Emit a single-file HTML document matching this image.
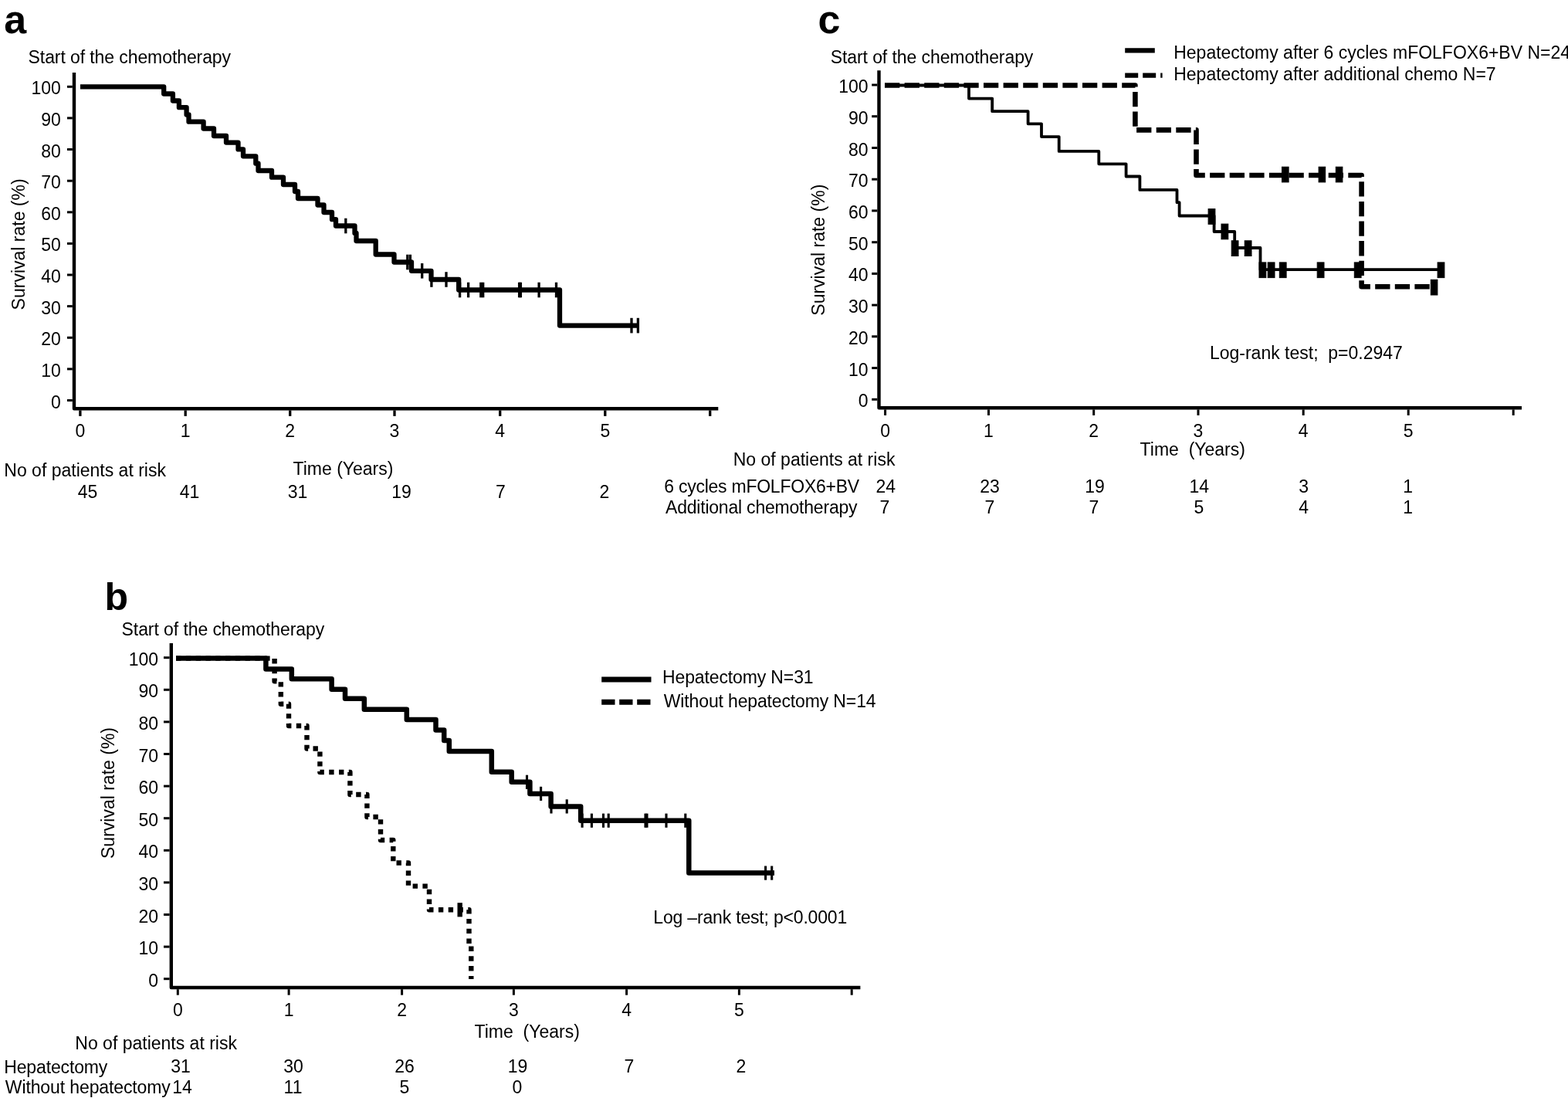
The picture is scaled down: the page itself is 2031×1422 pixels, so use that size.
<!DOCTYPE html>
<html><head><meta charset="utf-8"><title>Kaplan-Meier survival curves</title>
<style>html,body{margin:0;padding:0;background:#fff;}svg{display:block;}</style></head>
<body>
<svg width="2031" height="1422" viewBox="0 0 2031 1422" font-family="'Liberation Sans', Arial, Helvetica, sans-serif" font-size="23" fill="#000" stroke="#000">
<rect x="0" y="0" width="2031" height="1422" fill="#fff" stroke="none"/>
<text stroke="none" x="5.2" y="43.0" font-weight="bold" font-size="52">a</text>
<text stroke="none" x="36.6" y="82.0" textLength="262.46" lengthAdjust="spacing">Start of the chemotherapy</text>
<path d="M96.0,94.0 V529.2 H930.3" fill="none" stroke-width="4.4" stroke-linejoin="round"/>
<line x1="87.0" y1="518.5" x2="93.8" y2="518.5" stroke-width="3"/>
<text stroke="none" x="78.9" y="528.5" text-anchor="end">0</text>
<line x1="87.0" y1="477.9" x2="93.8" y2="477.9" stroke-width="3"/>
<text stroke="none" x="78.9" y="487.9" text-anchor="end">10</text>
<line x1="87.0" y1="437.3" x2="93.8" y2="437.3" stroke-width="3"/>
<text stroke="none" x="78.9" y="447.3" text-anchor="end">20</text>
<line x1="87.0" y1="396.6" x2="93.8" y2="396.6" stroke-width="3"/>
<text stroke="none" x="78.9" y="406.6" text-anchor="end">30</text>
<line x1="87.0" y1="356.0" x2="93.8" y2="356.0" stroke-width="3"/>
<text stroke="none" x="78.9" y="366.0" text-anchor="end">40</text>
<line x1="87.0" y1="315.4" x2="93.8" y2="315.4" stroke-width="3"/>
<text stroke="none" x="78.9" y="325.4" text-anchor="end">50</text>
<line x1="87.0" y1="274.8" x2="93.8" y2="274.8" stroke-width="3"/>
<text stroke="none" x="78.9" y="284.8" text-anchor="end">60</text>
<line x1="87.0" y1="234.2" x2="93.8" y2="234.2" stroke-width="3"/>
<text stroke="none" x="78.9" y="244.2" text-anchor="end">70</text>
<line x1="87.0" y1="193.5" x2="93.8" y2="193.5" stroke-width="3"/>
<text stroke="none" x="78.9" y="203.5" text-anchor="end">80</text>
<line x1="87.0" y1="152.9" x2="93.8" y2="152.9" stroke-width="3"/>
<text stroke="none" x="78.9" y="162.9" text-anchor="end">90</text>
<line x1="87.0" y1="112.3" x2="93.8" y2="112.3" stroke-width="3"/>
<text stroke="none" x="78.9" y="122.3" text-anchor="end">100</text>
<line x1="103.9" y1="531.4" x2="103.9" y2="538.9" stroke-width="3.3"/>
<text stroke="none" x="103.9" y="565.5" text-anchor="middle">0</text>
<line x1="240.2" y1="531.4" x2="240.2" y2="538.9" stroke-width="3.3"/>
<text stroke="none" x="240.2" y="565.5" text-anchor="middle">1</text>
<line x1="375.7" y1="531.4" x2="375.7" y2="538.9" stroke-width="3.3"/>
<text stroke="none" x="375.7" y="565.5" text-anchor="middle">2</text>
<line x1="511.0" y1="531.4" x2="511.0" y2="538.9" stroke-width="3.3"/>
<text stroke="none" x="511.0" y="565.5" text-anchor="middle">3</text>
<line x1="647.7" y1="531.4" x2="647.7" y2="538.9" stroke-width="3.3"/>
<text stroke="none" x="647.7" y="565.5" text-anchor="middle">4</text>
<line x1="783.8" y1="531.4" x2="783.8" y2="538.9" stroke-width="3.3"/>
<text stroke="none" x="783.8" y="565.5" text-anchor="middle">5</text>
<line x1="919.7" y1="531.4" x2="919.7" y2="538.9" stroke-width="3.3"/>
<text stroke="none" transform="translate(32.4,316.4) rotate(-90)" text-anchor="middle">Survival rate (%)</text>
<text stroke="none" x="5.3" y="617.0">No of patients at risk</text>
<text stroke="none" x="379.5" y="615.0">Time (Years)</text>
<text stroke="none" x="113.5" y="645.0" text-anchor="middle">45</text>
<text stroke="none" x="245.5" y="645.0" text-anchor="middle">41</text>
<text stroke="none" x="385.5" y="645.0" text-anchor="middle">31</text>
<text stroke="none" x="520.0" y="645.0" text-anchor="middle">19</text>
<text stroke="none" x="648.4" y="645.0" text-anchor="middle">7</text>
<text stroke="none" x="783.0" y="645.0" text-anchor="middle">2</text>
<path d="M104.0,112.3 H212.2 V121.5 H223.9 V130.5 H231.9 V139.2 H241.6 V148.5 H244.5 V157.7 H263.6 V166.5 H277.0 V176.0 H293.0 V184.6 H308.5 V193.4 H315.0 V202.3 H331.3 V211.7 H334.5 V221.0 H352.0 V229.7 H367.0 V239.0 H382.0 V248.0 H386.0 V257.0 H411.5 V265.5 H419.5 V275.0 H430.0 V284.2 H435.0 V292.5 H459.5 V302.0 H461.5 V312.0 H486.7 V329.5 H510.5 V339.5 H533.0 V350.8 H558.5 V362.0 H594.2 V375.5 H725.0 V421.6 H827.8" fill="none" stroke-width="6.3" stroke-linejoin="round" stroke-linecap="butt"/>
<line x1="447.8" y1="282.7" x2="447.8" y2="302.3" stroke-width="3.3"/>
<line x1="527.8" y1="329.7" x2="527.8" y2="349.3" stroke-width="3.3"/>
<line x1="531.4" y1="329.7" x2="531.4" y2="349.3" stroke-width="3.3"/>
<line x1="546.7" y1="341.0" x2="546.7" y2="360.6" stroke-width="3.3"/>
<line x1="558.9" y1="352.2" x2="558.9" y2="371.8" stroke-width="3.3"/>
<line x1="578.0" y1="352.2" x2="578.0" y2="371.8" stroke-width="3.3"/>
<line x1="595.6" y1="365.7" x2="595.6" y2="385.3" stroke-width="3.3"/>
<line x1="606.6" y1="365.7" x2="606.6" y2="385.3" stroke-width="3.3"/>
<line x1="622.8" y1="365.7" x2="622.8" y2="385.3" stroke-width="3.3"/>
<line x1="625.7" y1="365.7" x2="625.7" y2="385.3" stroke-width="3.3"/>
<line x1="672.6" y1="365.7" x2="672.6" y2="385.3" stroke-width="3.3"/>
<line x1="674.4" y1="365.7" x2="674.4" y2="385.3" stroke-width="3.3"/>
<line x1="698.1" y1="365.7" x2="698.1" y2="385.3" stroke-width="3.3"/>
<line x1="720.5" y1="365.7" x2="720.5" y2="385.3" stroke-width="3.3"/>
<line x1="818.0" y1="411.8" x2="818.0" y2="431.4" stroke-width="3.3"/>
<line x1="826.4" y1="411.8" x2="826.4" y2="431.4" stroke-width="3.3"/>
<text stroke="none" x="1059.5" y="43.0" font-weight="bold" font-size="52">c</text>
<text stroke="none" x="1075.7" y="82.0" textLength="262.66" lengthAdjust="spacing">Start of the chemotherapy</text>
<path d="M1138.5,91.2 V528.2 H1971.0" fill="none" stroke-width="4.4" stroke-linejoin="round"/>
<line x1="1129.2" y1="517.3" x2="1136.3" y2="517.3" stroke-width="3"/>
<text stroke="none" x="1124.6" y="527.3" text-anchor="end">0</text>
<line x1="1129.2" y1="476.6" x2="1136.3" y2="476.6" stroke-width="3"/>
<text stroke="none" x="1124.6" y="486.6" text-anchor="end">10</text>
<line x1="1129.2" y1="435.8" x2="1136.3" y2="435.8" stroke-width="3"/>
<text stroke="none" x="1124.6" y="445.8" text-anchor="end">20</text>
<line x1="1129.2" y1="395.1" x2="1136.3" y2="395.1" stroke-width="3"/>
<text stroke="none" x="1124.6" y="405.1" text-anchor="end">30</text>
<line x1="1129.2" y1="354.4" x2="1136.3" y2="354.4" stroke-width="3"/>
<text stroke="none" x="1124.6" y="364.4" text-anchor="end">40</text>
<line x1="1129.2" y1="313.7" x2="1136.3" y2="313.7" stroke-width="3"/>
<text stroke="none" x="1124.6" y="323.7" text-anchor="end">50</text>
<line x1="1129.2" y1="272.9" x2="1136.3" y2="272.9" stroke-width="3"/>
<text stroke="none" x="1124.6" y="282.9" text-anchor="end">60</text>
<line x1="1129.2" y1="232.2" x2="1136.3" y2="232.2" stroke-width="3"/>
<text stroke="none" x="1124.6" y="242.2" text-anchor="end">70</text>
<line x1="1129.2" y1="191.5" x2="1136.3" y2="191.5" stroke-width="3"/>
<text stroke="none" x="1124.6" y="201.5" text-anchor="end">80</text>
<line x1="1129.2" y1="150.7" x2="1136.3" y2="150.7" stroke-width="3"/>
<text stroke="none" x="1124.6" y="160.7" text-anchor="end">90</text>
<line x1="1129.2" y1="110.0" x2="1136.3" y2="110.0" stroke-width="3"/>
<text stroke="none" x="1124.6" y="120.0" text-anchor="end">100</text>
<line x1="1146.6" y1="530.4" x2="1146.6" y2="537.9" stroke-width="3"/>
<text stroke="none" x="1146.6" y="565.5" text-anchor="middle">0</text>
<line x1="1280.5" y1="530.4" x2="1280.5" y2="537.9" stroke-width="3"/>
<text stroke="none" x="1280.5" y="565.5" text-anchor="middle">1</text>
<line x1="1416.7" y1="530.4" x2="1416.7" y2="537.9" stroke-width="3"/>
<text stroke="none" x="1416.7" y="565.5" text-anchor="middle">2</text>
<line x1="1552.0" y1="530.4" x2="1552.0" y2="537.9" stroke-width="3"/>
<text stroke="none" x="1552.0" y="565.5" text-anchor="middle">3</text>
<line x1="1688.2" y1="530.4" x2="1688.2" y2="537.9" stroke-width="3"/>
<text stroke="none" x="1688.2" y="565.5" text-anchor="middle">4</text>
<line x1="1824.2" y1="530.4" x2="1824.2" y2="537.9" stroke-width="3"/>
<text stroke="none" x="1824.2" y="565.5" text-anchor="middle">5</text>
<line x1="1960.2" y1="530.4" x2="1960.2" y2="537.9" stroke-width="3"/>
<text stroke="none" transform="translate(1067.6,323.7) rotate(-90)" text-anchor="middle">Survival rate (%)</text>
<line x1="1457.2" y1="65.3" x2="1495.8" y2="65.3" stroke-width="6.2"/>
<path d="M1457.2,97.6 H1505.6" fill="none" stroke-width="6.2" stroke-linejoin="round" stroke-linecap="butt" stroke-dasharray="17 6"/>
<text stroke="none" x="1520.2" y="75.9">Hepatectomy after 6 cycles mFOLFOX6+BV N=24</text>
<text stroke="none" x="1520.2" y="104.0">Hepatectomy after additional chemo N=7</text>
<text stroke="none" x="1566.9" y="465.2" xml:space="preserve">Log-rank test;  p=0.2947</text>
<text stroke="none" x="1159.4" y="603.0" text-anchor="end">No of patients at risk</text>
<text stroke="none" x="1476.6" y="590.0" xml:space="preserve">Time  (Years)</text>
<text stroke="none" x="860.2" y="637.6" textLength="252.96" lengthAdjust="spacing">6 cycles mFOLFOX6+BV</text>
<text stroke="none" x="862.0" y="665.0" textLength="248.57" lengthAdjust="spacing">Additional chemotherapy</text>
<text stroke="none" x="1147.3" y="637.6" text-anchor="middle">24</text>
<text stroke="none" x="1282.0" y="637.6" text-anchor="middle">23</text>
<text stroke="none" x="1418.0" y="637.6" text-anchor="middle">19</text>
<text stroke="none" x="1553.3" y="637.6" text-anchor="middle">14</text>
<text stroke="none" x="1688.6" y="637.6" text-anchor="middle">3</text>
<text stroke="none" x="1823.6" y="637.6" text-anchor="middle">1</text>
<text stroke="none" x="1145.9" y="665.0" text-anchor="middle">7</text>
<text stroke="none" x="1282.0" y="665.0" text-anchor="middle">7</text>
<text stroke="none" x="1417.0" y="665.0" text-anchor="middle">7</text>
<text stroke="none" x="1553.0" y="665.0" text-anchor="middle">5</text>
<text stroke="none" x="1688.6" y="665.0" text-anchor="middle">4</text>
<text stroke="none" x="1823.6" y="665.0" text-anchor="middle">1</text>
<path d="M1146.0,110.5 H1255.0 V127.6 H1285.2 V144.2 H1331.6 V160.3 H1349.0 V177.1 H1371.7 V195.9 H1423.3 V212.3 H1458.6 V228.5 H1476.4 V245.9 H1524.5 V262.2 H1527.6 V279.5 H1572.6 V300.0 H1599.2 V321.0 H1632.5 V349.2 H1866.5" fill="none" stroke-width="3.8" stroke-linejoin="round" stroke-linecap="butt"/>
<rect x="1565.1" y="270.6" width="8.8" height="19.7"/>
<rect x="1582.0" y="290.1" width="8.8" height="19.7"/>
<rect x="1595.2" y="311.8" width="8.8" height="19.7"/>
<rect x="1612.2" y="311.8" width="8.8" height="19.7"/>
<rect x="1631.0" y="339.9" width="8.8" height="19.7"/>
<rect x="1642.2" y="339.9" width="8.8" height="19.7"/>
<rect x="1657.3" y="339.9" width="8.8" height="19.7"/>
<rect x="1706.2" y="339.9" width="8.8" height="19.7"/>
<rect x="1754.3" y="339.9" width="8.8" height="19.7"/>
<rect x="1862.1" y="339.9" width="8.8" height="19.7"/>
<path d="M1146.0,110.5 H1470.4 V168.4 H1549.5 V227.0 H1763.6 V371.3 H1857.6" fill="none" stroke-width="6.6" stroke-linejoin="round" stroke-linecap="butt" stroke-dasharray="19.3 6.3"/>
<rect x="1660.5" y="216.2" width="8.6" height="19.7"/>
<rect x="1708.1" y="216.2" width="8.6" height="19.7"/>
<rect x="1730.3" y="216.2" width="8.6" height="19.7"/>
<rect x="1853.3" y="362.3" width="8.6" height="19.7"/>
<text stroke="none" x="135.5" y="789.8" font-weight="bold" font-size="50">b</text>
<text stroke="none" x="157.6" y="823.0" textLength="262.66" lengthAdjust="spacing">Start of the chemotherapy</text>
<path d="M221.8,833.0 V1279.0 H1114.4" fill="none" stroke-width="4.4" stroke-linejoin="round"/>
<line x1="212.0" y1="1267.7" x2="219.6" y2="1267.7" stroke-width="3"/>
<text stroke="none" x="205.1" y="1277.7" text-anchor="end">0</text>
<line x1="212.0" y1="1226.1" x2="219.6" y2="1226.1" stroke-width="3"/>
<text stroke="none" x="205.1" y="1236.1" text-anchor="end">10</text>
<line x1="212.0" y1="1184.5" x2="219.6" y2="1184.5" stroke-width="3"/>
<text stroke="none" x="205.1" y="1194.5" text-anchor="end">20</text>
<line x1="212.0" y1="1142.9" x2="219.6" y2="1142.9" stroke-width="3"/>
<text stroke="none" x="205.1" y="1152.9" text-anchor="end">30</text>
<line x1="212.0" y1="1101.3" x2="219.6" y2="1101.3" stroke-width="3"/>
<text stroke="none" x="205.1" y="1111.3" text-anchor="end">40</text>
<line x1="212.0" y1="1059.7" x2="219.6" y2="1059.7" stroke-width="3"/>
<text stroke="none" x="205.1" y="1069.7" text-anchor="end">50</text>
<line x1="212.0" y1="1018.1" x2="219.6" y2="1018.1" stroke-width="3"/>
<text stroke="none" x="205.1" y="1028.1" text-anchor="end">60</text>
<line x1="212.0" y1="976.5" x2="219.6" y2="976.5" stroke-width="3"/>
<text stroke="none" x="205.1" y="986.5" text-anchor="end">70</text>
<line x1="212.0" y1="934.9" x2="219.6" y2="934.9" stroke-width="3"/>
<text stroke="none" x="205.1" y="944.9" text-anchor="end">80</text>
<line x1="212.0" y1="893.3" x2="219.6" y2="893.3" stroke-width="3"/>
<text stroke="none" x="205.1" y="903.3" text-anchor="end">90</text>
<line x1="212.0" y1="851.7" x2="219.6" y2="851.7" stroke-width="3"/>
<text stroke="none" x="205.1" y="861.7" text-anchor="end">100</text>
<line x1="230.3" y1="1281.2" x2="230.3" y2="1288.7" stroke-width="3"/>
<text stroke="none" x="230.3" y="1315.5" text-anchor="middle">0</text>
<line x1="374.1" y1="1281.2" x2="374.1" y2="1288.7" stroke-width="3"/>
<text stroke="none" x="374.1" y="1315.5" text-anchor="middle">1</text>
<line x1="520.6" y1="1281.2" x2="520.6" y2="1288.7" stroke-width="3"/>
<text stroke="none" x="520.6" y="1315.5" text-anchor="middle">2</text>
<line x1="665.4" y1="1281.2" x2="665.4" y2="1288.7" stroke-width="3"/>
<text stroke="none" x="665.4" y="1315.5" text-anchor="middle">3</text>
<line x1="811.6" y1="1281.2" x2="811.6" y2="1288.7" stroke-width="3"/>
<text stroke="none" x="811.6" y="1315.5" text-anchor="middle">4</text>
<line x1="957.4" y1="1281.2" x2="957.4" y2="1288.7" stroke-width="3"/>
<text stroke="none" x="957.4" y="1315.5" text-anchor="middle">5</text>
<line x1="1103.2" y1="1281.2" x2="1103.2" y2="1288.7" stroke-width="3"/>
<text stroke="none" transform="translate(148.4,1027.0) rotate(-90)" text-anchor="middle">Survival rate (%)</text>
<line x1="779.2" y1="880.0" x2="843.5" y2="880.0" stroke-width="6.9"/>
<path d="M779.2,909.2 H842.6" fill="none" stroke-width="6.9" stroke-linejoin="round" stroke-linecap="butt" stroke-dasharray="17.3 5.7"/>
<text stroke="none" x="858.0" y="884.8" textLength="195.63" lengthAdjust="spacing">Hepatectomy N=31</text>
<text stroke="none" x="859.8" y="915.5" textLength="274.78" lengthAdjust="spacing">Without hepatectomy N=14</text>
<text stroke="none" x="846.3" y="1195.7" textLength="250.92" lengthAdjust="spacing">Log –rank test; p&lt;0.0001</text>
<text stroke="none" x="97.3" y="1359.0">No of patients at risk</text>
<text stroke="none" x="614.5" y="1343.6" xml:space="preserve">Time  (Years)</text>
<text stroke="none" x="5.2" y="1390.0" textLength="134.12" lengthAdjust="spacing">Hepatectomy</text>
<text stroke="none" x="6.8" y="1416.4" textLength="214.06" lengthAdjust="spacing">Without hepatectomy</text>
<text stroke="none" x="234.0" y="1389.0" text-anchor="middle">31</text>
<text stroke="none" x="380.0" y="1389.0" text-anchor="middle">30</text>
<text stroke="none" x="524.0" y="1389.0" text-anchor="middle">26</text>
<text stroke="none" x="670.5" y="1389.0" text-anchor="middle">19</text>
<text stroke="none" x="815.0" y="1389.0" text-anchor="middle">7</text>
<text stroke="none" x="960.0" y="1389.0" text-anchor="middle">2</text>
<text stroke="none" x="236.0" y="1416.4" text-anchor="middle">14</text>
<text stroke="none" x="379.5" y="1416.4" text-anchor="middle">11</text>
<text stroke="none" x="524.0" y="1416.4" text-anchor="middle">5</text>
<text stroke="none" x="670.0" y="1416.4" text-anchor="middle">0</text>
<path d="M228.0,852.6 H355.6 V882.2 H363.8 V911.7 H374.0 V940.0 H397.5 V969.5 H414.4 V1000.0 H453.4 V1029.0 H475.4 V1058.0 H493.0 V1088.0 H509.3 V1117.5 H529.0 V1147.6 H556.0 V1178.3 H607.5 V1222.0 H610.3 V1268.0 H610.3" fill="none" stroke-width="6.4" stroke-linejoin="round" stroke-linecap="butt" stroke-dasharray="6.4 6.4"/>
<line x1="595.7" y1="1169.2" x2="595.7" y2="1187.4" stroke-width="6.4"/>
<path d="M228.0,852.6 H344.4 V866.4 H377.8 V879.2 H429.6 V892.7 H447.0 V904.8 H471.8 V918.7 H526.8 V931.9 H564.5 V945.5 H575.2 V959.0 H581.8 V973.0 H636.8 V999.7 H662.7 V1012.8 H686.4 V1027.9 H713.6 V1044.4 H752.2 V1062.7 H892.3 V1130.6 H1003.0" fill="none" stroke-width="6.5" stroke-linejoin="round" stroke-linecap="butt"/>
<line x1="682.5" y1="1003.7" x2="682.5" y2="1021.9" stroke-width="3.1"/>
<line x1="700.6" y1="1018.8" x2="700.6" y2="1037.0" stroke-width="3.1"/>
<line x1="714.0" y1="1035.3" x2="714.0" y2="1053.5" stroke-width="3.1"/>
<line x1="734.2" y1="1035.3" x2="734.2" y2="1053.5" stroke-width="3.1"/>
<line x1="754.1" y1="1053.6" x2="754.1" y2="1071.8" stroke-width="3.1"/>
<line x1="766.4" y1="1053.6" x2="766.4" y2="1071.8" stroke-width="3.1"/>
<line x1="781.5" y1="1053.6" x2="781.5" y2="1071.8" stroke-width="3.1"/>
<line x1="788.2" y1="1053.6" x2="788.2" y2="1071.8" stroke-width="3.1"/>
<line x1="836.0" y1="1053.6" x2="836.0" y2="1071.8" stroke-width="3.1"/>
<line x1="838.0" y1="1053.6" x2="838.0" y2="1071.8" stroke-width="3.1"/>
<line x1="863.0" y1="1053.6" x2="863.0" y2="1071.8" stroke-width="3.1"/>
<line x1="887.8" y1="1053.6" x2="887.8" y2="1071.8" stroke-width="3.1"/>
<line x1="991.6" y1="1121.5" x2="991.6" y2="1139.7" stroke-width="3.1"/>
<line x1="999.7" y1="1121.5" x2="999.7" y2="1139.7" stroke-width="3.1"/>
</svg>
</body></html>
